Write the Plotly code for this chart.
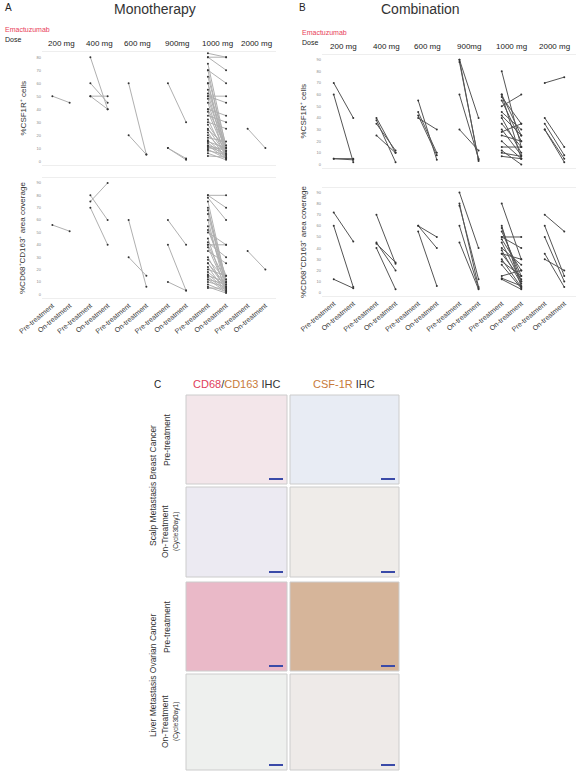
import plotly.graph_objects as go

W, H = 579, 779
doses = ["200 mg", "400 mg", "600 mg", "900mg", "1000 mg", "2000 mg"]
tx = ["Pre-treatment", "On-treatment"]

# (pre, on) pairs per dose
mono_csf = [
    [(50, 45)],
    [(80, 40), (60, 45), (50, 50), (50, 40)],
    [(60, 5), (20, 5)],
    [(60, 30), (10, 1), (10, 2)],
    [(83, 80), (80, 80), (80, 70), (70, 60), (75, 10), (70, 5), (65, 12), (60, 8), (60, 3),
     (55, 10), (52, 5), (50, 50), (50, 45), (48, 8), (45, 2), (40, 35), (40, 10), (38, 5),
     (35, 30), (32, 3), (30, 25), (28, 8), (25, 5), (24, 12), (22, 2), (20, 6), (18, 15),
     (16, 4), (15, 10), (14, 3), (12, 8), (12, 2), (11, 6), (10, 10), (9, 2), (8, 5), (6, 1), (4, 3)],
    [(25, 10)],
]
mono_cd = [
    [(56, 51)],
    [(75, 90), (80, 60), (70, 40)],
    [(60, 6), (30, 15)],
    [(60, 40), (40, 3), (10, 3)],
    [(80, 80), (80, 70), (78, 60), (75, 10), (70, 5), (68, 12), (65, 8), (60, 3), (55, 10),
     (52, 15), (50, 40), (45, 2), (42, 30), (40, 40), (40, 10), (38, 5), (35, 25), (30, 3),
     (28, 12), (25, 8), (25, 5), (22, 2), (20, 15), (18, 6), (16, 4), (15, 10), (14, 3),
     (12, 8), (12, 2), (10, 6), (8, 2), (6, 1), (5, 5)],
    [(35, 20)],
]
combo_csf = [
    [(70, 40), (60, 2), (5, 5), (5, 4)],
    [(40, 10), (35, 12), (25, 10), (38, 2)],
    [(55, 4), (45, 10), (40, 30), (42, 8)],
    [(90, 40), (90, 3), (60, 5), (30, 12), (88, 4)],
    [(80, 15), (60, 5), (58, 35), (55, 20), (50, 60), (45, 30), (42, 25), (40, 10), (35, 15),
     (30, 8), (28, 35), (25, 20), (20, 5), (15, 15), (12, 0), (10, 7), (7, 5), (60, 25)],
    [(70, 75), (40, 15), (35, 8), (30, 5), (30, 2)],
]
combo_cd = [
    [(72, 46), (60, 5), (12, 4)],
    [(70, 26), (45, 20), (44, 27), (40, 3)],
    [(60, 50), (60, 40), (55, 6)],
    [(90, 40), (80, 5), (78, 12), (60, 4), (45, 3)],
    [(80, 30), (60, 5), (55, 15), (50, 50), (50, 40), (48, 20), (45, 10), (40, 25), (38, 8),
     (35, 30), (35, 12), (30, 5), (28, 15), (25, 4), (15, 20), (13, 6), (12, 3), (58, 10)],
    [(70, 55), (60, 15), (50, 10), (35, 5), (30, 20)],
]

fig = go.Figure()
layout = {}
ann = []
n = [0]


def px(x0, x1, y0, y1):
    return [x0 / W, x1 / W], [1 - y1 / H, 1 - y0 / H]


def note(x, y, text, size, color="#333", angle=0, xanchor="center"):
    ann.append(dict(x=x / W, y=1 - y / H, xref="paper", yref="paper", text=text,
                    textangle=angle, showarrow=False, xanchor=xanchor, yanchor="middle",
                    font=dict(size=size, color=color)))


def panel(data, cols, ytop, ybot, ymax, line_color, bottom, ylabel):
    for i, pairs in enumerate(data):
        n[0] += 1
        k = n[0]
        xd, yd = px(cols[i], cols[i + 1], ytop, ybot)
        layout[f"xaxis{k}"] = dict(domain=xd, anchor=f"y{k}", type="category",
                                   categoryorder="array", categoryarray=tx, range=[-0.6, 1.6],
                                   showticklabels=bottom, tickangle=-40, automargin=False,
                                   tickfont=dict(size=7, color="#333"), showgrid=False,
                                   showline=True, linecolor="#eeeeee", mirror=True, ticks="")
        layout[f"yaxis{k}"] = dict(domain=yd, anchor=f"x{k}", range=[-3, ymax + 4],
                                   tickvals=list(range(0, ymax + 1, 10)), showticklabels=(i == 0),
                                   tickfont=dict(size=4, color="#888"), showgrid=False,
                                   zeroline=False, showline=False, automargin=False)
        for pre, on in pairs:
            fig.add_trace(go.Scatter(x=tx, y=[pre, on], mode="lines+markers",
                                     xaxis=f"x{k}", yaxis=f"y{k}", showlegend=False,
                                     line=dict(color=line_color, width=1),
                                     marker=dict(size=2, color="#333")))
    note(cols[0] - 19, (ytop + ybot) / 2, ylabel, 8, angle=-90)


ca = [42, 80, 118, 157, 197, 237, 276]
cb = [322, 365, 407, 448, 490, 533, 576]
panel(mono_csf, ca, 52, 165, 80, "#b0b0b0", False, "%CSF1R⁺ cells")
panel(mono_cd, ca, 178, 298, 90, "#b0b0b0", True, "%CD68⁺CD163⁺ area coverage")
panel(combo_csf, cb, 55, 168, 90, "#555555", False, "%CSF1R⁺ cells")
panel(combo_cd, cb, 188, 296, 90, "#555555", True, "%CD68⁺CD163⁺ area coverage")

for cols, yl in [(ca, 44), (cb, 47)]:
    for i, d in enumerate(doses):
        note((cols[i] + cols[i + 1]) / 2, yl, d, 8, "#222")

note(3, 8, "A", 10, "#222", xanchor="left")
note(155, 9, "Monotherapy", 14)
note(3, 29, "Emactuzumab", 7, "#e8405a", xanchor="left")
note(3, 39, "Dose", 7, "#222", xanchor="left")
note(297, 8, "B", 10, "#222", xanchor="left")
note(420, 9, "Combination", 14)
note(300, 32, "Emactuzumab", 7, "#e8405a", xanchor="left")
note(300, 42, "Dose", 7, "#222", xanchor="left")
note(152, 384, "C", 10, "#222", xanchor="left")
note(236, 384, "<span style='color:#e0405a'>CD68</span>/<span style='color:#c87a3a'>CD163</span> IHC", 11)
note(344, 384, "<span style='color:#c87a3a'>CSF-1R</span> IHC", 11)

# panel C: photo placeholders
shapes = []
rows = [(395, 484), (487, 577), (582, 671), (674, 770)]
fills = [("#f3e6ea", "#e8ecf4"), ("#eceaf2", "#efece9"), ("#eab9c8", "#d6b59a"), ("#eef0ee", "#eeeae8")]
for (y0, y1), (f1, f2) in zip(rows, fills):
    for (x0, x1), f in zip([(186, 287), (290, 399)], (f1, f2)):
        shapes.append(dict(type="rect", xref="paper", yref="paper", x0=x0 / W, x1=x1 / W,
                           y0=1 - y1 / H, y1=1 - y0 / H, fillcolor=f, line=dict(color="#cccccc", width=1)))
        shapes.append(dict(type="rect", xref="paper", yref="paper", x0=(x1 - 18) / W, x1=(x1 - 4) / W,
                           y0=1 - (y1 - 4) / H, y1=1 - (y1 - 6) / H, fillcolor="#3a4aa8", line=dict(width=0)))

note(153, 486, "Scalp Metastasis Breast Cancer", 8.5, angle=-90)
note(167, 440, "Pre-treatment", 8.5, angle=-90)
note(165, 532, "On-Treatment", 8.5, angle=-90)
note(176, 532, "(Cycle3Day1)", 6.5, angle=-90)
note(153, 676, "Liver Metastasis Ovarian Cancer", 8.5, angle=-90)
note(167, 627, "Pre-treatment", 8.5, angle=-90)
note(165, 722, "On-Treatment", 8.5, angle=-90)
note(176, 722, "(Cycle3Day1)", 6.5, angle=-90)

fig.update_layout(**layout, annotations=ann, shapes=shapes, width=W, height=H,
                  margin=dict(l=0, r=0, t=0, b=0), paper_bgcolor="white", plot_bgcolor="white",
                  font=dict(family="Liberation Sans, Arial"))
fig.write_html("out.html", config={"displayModeBar": False})

# drop the default page margin so the figure fits the window
with open("out.html") as f:
    page = f.read()
page = page.replace("<head>", "<head><style>body{margin:0;overflow:hidden}</style>", 1)
with open("out.html", "w") as f:
    f.write(page)
